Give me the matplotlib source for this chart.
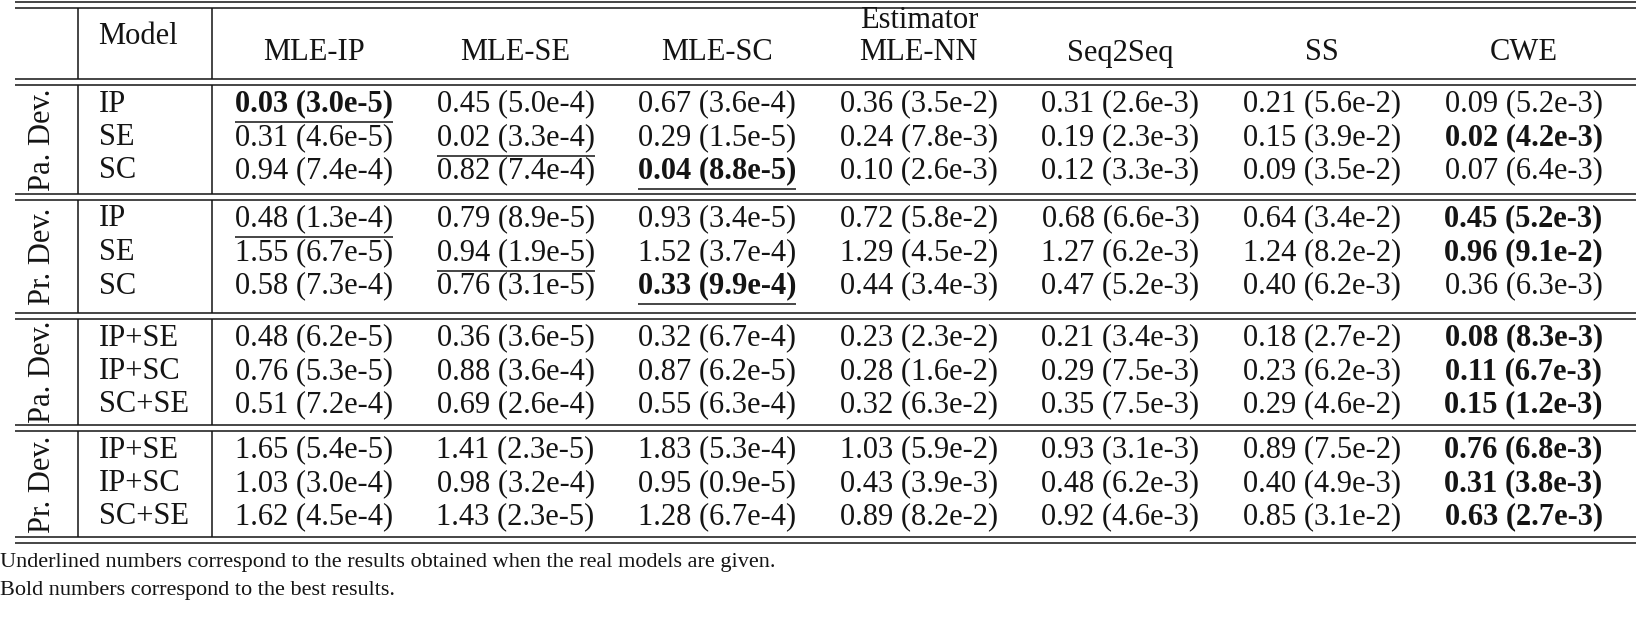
import matplotlib
matplotlib.use('Agg')
import matplotlib.pyplot as plt

# table content
estimators = ['MLE-IP', 'MLE-SE', 'MLE-SC', 'MLE-NN', 'Seq2Seq', 'SS', 'CWE']
groups = ['Pa. Dev.', 'Pr. Dev.', 'Pa. Dev.', 'Pr. Dev.']
models = [['IP', 'SE', 'SC'], ['IP', 'SE', 'SC'],
          ['IP+SE', 'IP+SC', 'SC+SE'], ['IP+SE', 'IP+SC', 'SC+SE']]

means_pa_single = [[0.03, 0.45, 0.67, 0.36, 0.31, 0.21, 0.09],
                   [0.31, 0.02, 0.29, 0.24, 0.19, 0.15, 0.02],
                   [0.94, 0.82, 0.04, 0.10, 0.12, 0.09, 0.07]]
stds_pa_single = [['3.0e-5', '5.0e-4', '3.6e-4', '3.5e-2', '2.6e-3', '5.6e-2', '5.2e-3'],
                  ['4.6e-5', '3.3e-4', '1.5e-5', '7.8e-3', '2.3e-3', '3.9e-2', '4.2e-3'],
                  ['7.4e-4', '7.4e-4', '8.8e-5', '2.6e-3', '3.3e-3', '3.5e-2', '6.4e-3']]

means_pr_single = [[0.48, 0.79, 0.93, 0.72, 0.68, 0.64, 0.45],
                   [1.55, 0.94, 1.52, 1.29, 1.27, 1.24, 0.96],
                   [0.58, 0.76, 0.33, 0.44, 0.47, 0.40, 0.36]]
stds_pr_single = [['1.3e-4', '8.9e-5', '3.4e-5', '5.8e-2', '6.6e-3', '3.4e-2', '5.2e-3'],
                  ['6.7e-5', '1.9e-5', '3.7e-4', '4.5e-2', '6.2e-3', '8.2e-2', '9.1e-2'],
                  ['7.3e-4', '3.1e-5', '9.9e-4', '3.4e-3', '5.2e-3', '6.2e-3', '6.3e-3']]

means_pa_pair = [[0.48, 0.36, 0.32, 0.23, 0.21, 0.18, 0.08],
                 [0.76, 0.88, 0.87, 0.28, 0.29, 0.23, 0.11],
                 [0.51, 0.69, 0.55, 0.32, 0.35, 0.29, 0.15]]
stds_pa_pair = [['6.2e-5', '3.6e-5', '6.7e-4', '2.3e-2', '3.4e-3', '2.7e-2', '8.3e-3'],
                ['5.3e-5', '3.6e-4', '6.2e-5', '1.6e-2', '7.5e-3', '6.2e-3', '6.7e-3'],
                ['7.2e-4', '2.6e-4', '6.3e-4', '6.3e-2', '7.5e-3', '4.6e-2', '1.2e-3']]

means_pr_pair = [[1.65, 1.41, 1.83, 1.03, 0.93, 0.89, 0.76],
                 [1.03, 0.98, 0.95, 0.43, 0.48, 0.40, 0.31],
                 [1.62, 1.43, 1.28, 0.89, 0.92, 0.85, 0.63]]
stds_pr_pair = [['5.4e-5', '2.3e-5', '5.3e-4', '5.9e-2', '3.1e-3', '7.5e-2', '6.8e-3'],
                ['3.0e-4', '3.2e-4', '0.9e-5', '3.9e-3', '6.2e-3', '4.9e-3', '3.8e-3'],
                ['4.5e-4', '2.3e-5', '6.7e-4', '8.2e-2', '4.6e-3', '3.1e-2', '2.7e-3']]

all_means = [means_pa_single, means_pr_single, means_pa_pair, means_pr_pair]
all_stds = [stds_pa_single, stds_pr_single, stds_pa_pair, stds_pr_pair]

# (section, row, col)
bold_cells = [(0, 0, 0), (0, 1, 6), (0, 2, 2),
              (1, 0, 6), (1, 1, 6), (1, 2, 2),
              (2, 0, 6), (2, 1, 6), (2, 2, 6),
              (3, 0, 6), (3, 1, 6), (3, 2, 6)]
underlined_cells = [(0, 0, 0), (0, 1, 1), (0, 2, 2),
                    (1, 0, 0), (1, 1, 1), (1, 2, 2)]

notes = ['Underlined numbers correspond to the results obtained when the real models are given.',
         'Bold numbers correspond to the best results.']

# layout (pixels)
W, H = 1636, 619
FONT = 'Liberation Serif'
FS = 22
INK = '#141414'
rule_y = [2, 79, 194, 313, 425, 537]
gap = 6
col_x0, col_dx = 314, 201.6
row_off = [19, 52.5, 86]
vlines_x = [78, 212]

fig = plt.figure(figsize=(W / 100, H / 100), dpi=100)
ax = fig.add_axes([0, 0, 1, 1])
ax.set_xlim(0, W)
ax.set_ylim(H, 0)
ax.axis('off')

for y in rule_y:
    ax.hlines([y, y + gap], 15, W, color=INK, lw=1.1)
for i in range(len(rule_y) - 1):
    ax.vlines(vlines_x, rule_y[i] + gap, rule_y[i + 1], color=INK, lw=1.1)

# header
ax.text(98, 36, 'Model', fontsize=FS, family=FONT, color=INK, ha='left', va='center')
ax.text(col_x0 + 3 * col_dx, 21, 'Estimator', fontsize=FS, family=FONT, color=INK,
        ha='center', va='center')
for j, name in enumerate(estimators):
    ax.text(col_x0 + j * col_dx, 53, name, fontsize=FS, family=FONT, color=INK,
            ha='center', va='center')

fig.canvas.draw()
renderer = fig.canvas.get_renderer()
inv = ax.transData.inverted()

for s in range(4):
    top = rule_y[s + 1] + gap
    bottom = rule_y[s + 2]
    ax.text(43, (top + bottom) / 2, groups[s], fontsize=FS, family=FONT, color=INK,
            rotation=90, ha='center', va='center')
    for r in range(3):
        y = top + row_off[r]
        ax.text(99, y, models[s][r], fontsize=FS, family=FONT, color=INK,
                ha='left', va='center')
        for j in range(len(estimators)):
            label = '%.2f (%s)' % (all_means[s][r][j], all_stds[s][r][j])
            weight = 'bold' if (s, r, j) in bold_cells else 'normal'
            t = ax.text(col_x0 + j * col_dx, y, label, fontsize=FS, family=FONT,
                        color=INK, fontweight=weight, ha='center', va='center')
            if (s, r, j) in underlined_cells:
                bb = t.get_window_extent(renderer)
                (x0, _), (x1, _) = inv.transform([[bb.x0, bb.y0], [bb.x1, bb.y1]])
                ax.hlines(y + 18, x0, x1, color=INK, lw=1.1)

for k, note in enumerate(notes):
    ax.text(0, 563 + k * 27, note, fontsize=16, family=FONT, color=INK,
            ha='left', va='center')

fig.savefig('out.png', dpi=100, facecolor='white')
